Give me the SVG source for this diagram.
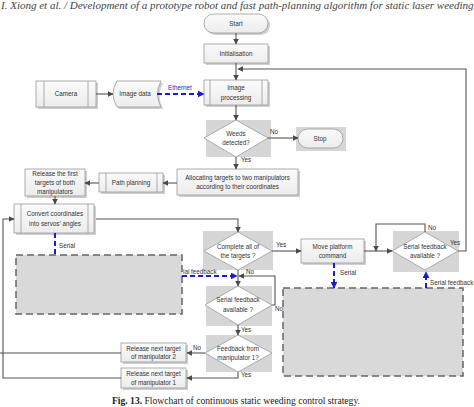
<svg xmlns="http://www.w3.org/2000/svg" width="474" height="407" viewBox="0 0 474 407">
<defs>
<marker id="ah" viewBox="0 0 10 10" refX="9" refY="5" markerWidth="6" markerHeight="6" markerUnits="userSpaceOnUse" orient="auto"><path d="M0 0 L10 5 L0 10 Z" fill="#4a4a4a"/></marker>
<marker id="bh" viewBox="0 0 10 10" refX="9" refY="5" markerWidth="7" markerHeight="7" markerUnits="userSpaceOnUse" orient="auto"><path d="M0 0 L10 5 L0 10 Z" fill="#1b1bd0"/></marker>
<linearGradient id="g" x1="0" y1="0" x2="0" y2="1"><stop offset="0" stop-color="#fbfbfb"/><stop offset="1" stop-color="#ececec"/></linearGradient>
</defs>
<style>
.n{fill:url(#g);stroke:#9a9a9a;stroke-width:0.8}
.sh{fill:#cfcfcf}
.bg{fill:#d6d6d6}
.d{fill:#ffffff;stroke:#9a9a9a;stroke-width:0.8}
.il{stroke:#9a9a9a;stroke-width:0.8}
.t{font-family:"Liberation Sans",Arial,sans-serif;font-size:6.3px;fill:#333;text-anchor:middle}
.lb{font-family:"Liberation Sans",Arial,sans-serif;font-size:6.3px;fill:#333}
.c{fill:none;stroke:#555;stroke-width:1.1}
.b{fill:none;stroke:#1b1bd0;stroke-width:2;stroke-dasharray:5 3}
.db{fill:#d9d9d9;stroke:#666;stroke-width:1.5;stroke-dasharray:7 4}
.hd{font-family:"Liberation Serif","Times New Roman",serif;font-style:italic;font-size:11px;fill:#444}
.cap{font-family:"Liberation Serif","Times New Roman",serif;font-size:9.6px;fill:#222;text-anchor:middle}
</style>
<text class="hd" x="1" y="8.5">I. Xiong et al. / Development of a prototype robot and fast path-planning algorithm for static laser weeding</text>

<g id="start"><rect class="sh" x="206" y="16" width="64" height="19" rx="9.5"/><rect class="n" x="204" y="14" width="64" height="19" rx="9.5"/><text class="t" x="236" y="26">Start</text></g>
<g id="init"><rect class="sh" x="206" y="46" width="64" height="19"/><rect class="n" x="204" y="44" width="64" height="19"/><text class="t" x="236" y="56">Initialisation</text></g>
<g id="camera"><rect class="sh" x="38" y="83" width="60" height="26"/><rect class="n" x="36" y="81" width="60" height="26"/><path class="il" d="M44 81 V107 M88 81 V107"/><text class="t" x="66" y="96">Camera</text></g>
<g id="imagedata"><path class="sh" d="M119 83 H163 Q156 96 163 109 H119 Q111 96 119 83 Z"/><path class="n" d="M117 81 H161 Q154 94 161 107 H117 Q109 94 117 81 Z"/><text class="t" x="135" y="96">Image data</text></g>
<g id="imgproc"><rect class="sh" x="206" y="82" width="64" height="25"/><rect class="n" x="204" y="80" width="64" height="25"/><path class="il" d="M210 80 V105 M262 80 V105"/><text class="t" x="236" y="90">Image</text><text class="t" x="236" y="100">processing</text></g>
<g id="weeds"><rect class="bg" x="206" y="120" width="65" height="37"/><polygon class="d" points="236,120 268,138 236,157 204,138"/><text class="t" x="236" y="136">Weeds</text><text class="t" x="236" y="145">detected?</text></g>
<g id="stop"><rect class="bg" x="296" y="127" width="50" height="24"/><rect class="n" x="298" y="129" width="45" height="19" rx="9.5"/><text class="t" x="320" y="141">Stop</text></g>
<g id="allocating"><rect class="sh" x="179" y="171" width="121" height="26"/><rect class="n" x="177" y="169" width="121" height="26"/><text class="t" x="237.5" y="180">Allocating targets to two manipulators</text><text class="t" x="237.5" y="189">according to their coordinates</text></g>
<g id="pathplanning"><rect class="sh" x="101" y="175" width="64" height="19"/><rect class="n" x="99" y="173" width="64" height="19"/><path class="il" d="M106 173 V192 M157 173 V192"/><text class="t" x="131" y="185">Path planning</text></g>
<g id="releasefirst"><rect class="sh" x="27" y="171" width="60" height="27"/><rect class="n" x="25" y="169" width="60" height="27"/><text class="t" x="55" y="176">Release the first</text><text class="t" x="55" y="185">targets of both</text><text class="t" x="55" y="194">manipulators</text></g>
<g id="convert"><rect class="sh" x="16" y="206" width="80" height="29"/><rect class="n" x="14" y="204" width="80" height="29"/><path class="il" d="M21 204 V233 M88 204 V233"/><text class="t" x="55" y="216">Convert coordinates</text><text class="t" x="55" y="226">into servos’ angles</text></g>
<g id="leftbox"><rect class="db" x="16" y="255" width="166" height="59"/></g>
<g id="complete"><rect class="bg" x="203" y="231" width="70" height="39"/><polygon class="d" points="238,232 272,251 238,270 204,251"/><text class="t" x="238" y="249">Complete all of</text><text class="t" x="238" y="258">the targets ?</text></g>
<g id="sfaleft"><rect class="bg" x="206" y="286" width="66" height="40"/><polygon class="d" points="238,286 272,305 238,325 205,305"/><text class="t" x="238" y="302">Serial feedback</text><text class="t" x="238" y="312">available ?</text></g>
<g id="feedback"><rect class="bg" x="206" y="335" width="66" height="37"/><polygon class="d" points="238,335 272,353 238,372 205,353"/><text class="t" x="238" y="351">Feedback from</text><text class="t" x="238" y="360">manipulator 1?</text></g>
<g id="release2"><rect class="sh" x="123" y="345" width="65" height="19"/><rect class="n" x="121" y="343" width="65" height="19"/><text class="t" x="153.5" y="351">Release next target</text><text class="t" x="153.5" y="359">of manipulator 2</text></g>
<g id="release1"><rect class="sh" x="123" y="370" width="65" height="20"/><rect class="n" x="121" y="368" width="65" height="20"/><text class="t" x="153.5" y="376">Release next target</text><text class="t" x="153.5" y="385">of manipulator 1</text></g>
<g id="move"><rect class="sh" x="303" y="241" width="63" height="24"/><rect class="n" x="301" y="239" width="63" height="24"/><text class="t" x="332.5" y="249">Move platform</text><text class="t" x="332.5" y="258">command</text></g>
<g id="sfaright"><rect class="bg" x="393" y="231" width="66" height="41"/><polygon class="d" points="425,232 458,251 425,270 392,251"/><text class="t" x="425" y="249">Serial feedback</text><text class="t" x="425" y="258">available ?</text></g>
<g id="rightbox"><rect class="db" x="283" y="288" width="180" height="88"/></g>

<g id="connectors">
<path class="c" d="M236 33 V44" marker-end="url(#ah)"/>
<path class="c" d="M236 63 V80" marker-end="url(#ah)"/>
<path class="c" d="M96 94 H113" marker-end="url(#ah)"/>
<path class="b" d="M157 94 H204" marker-end="url(#bh)"/>
<path class="c" d="M236 105 V120" marker-end="url(#ah)"/>
<path class="c" d="M268 138 H298" marker-end="url(#ah)"/>
<path class="c" d="M236 157 V169" marker-end="url(#ah)"/>
<path class="c" d="M177 183 H163" marker-end="url(#ah)"/>
<path class="c" d="M99 183 H85" marker-end="url(#ah)"/>
<path class="c" d="M55 196 V204" marker-end="url(#ah)"/>
<path class="c" d="M96 219 H238 V232" marker-end="url(#ah)"/>
<path class="b" d="M55 233 V255"/>
<path class="b" d="M182 276 H237" marker-end="url(#bh)"/>
<path class="c" d="M238 270 V286" marker-end="url(#ah)"/>
<path class="c" d="M272 305 H275 V276 H239" marker-end="url(#ah)"/>
<path class="c" d="M238 325 V335" marker-end="url(#ah)"/>
<path class="c" d="M205 353 H187" marker-end="url(#ah)"/>
<path class="c" d="M238 372 V378 H187" marker-end="url(#ah)"/>
<path class="c" d="M121 353 H0"/>
<path class="c" d="M121 378 H3 V219 H14" marker-end="url(#ah)"/>
<path class="c" d="M272 251 H301" marker-end="url(#ah)"/>
<path class="c" d="M364 251 H392" marker-end="url(#ah)"/>
<path class="c" d="M425 232 V224 H376 V251" marker-end="url(#ah)"/>
<path class="c" d="M458 251 H466 V69 H238" marker-end="url(#ah)"/>
<path class="b" d="M334 263 V288" marker-end="url(#bh)"/>
<path class="b" d="M426 288 V272" marker-end="url(#bh)"/>
<text class="lb" x="168" y="90" style="fill:#1b1bd0">Ethernet</text>
<text class="lb" x="270" y="134">No</text>
<text class="lb" x="241" y="162">Yes</text>
<text class="lb" x="59" y="248">Serial</text>
<text class="lb" x="183" y="274">ial feedback</text>
<text class="lb" x="276" y="247">Yes</text>
<text class="lb" x="246" y="274">No</text>
<text class="lb" x="275" y="311">No</text>
<text class="lb" x="241" y="332">Yes</text>
<text class="lb" x="193" y="350">No</text>
<text class="lb" x="241" y="377">Yes</text>
<text class="lb" x="428" y="230">No</text>
<text class="lb" x="450" y="245">Yes</text>
<text class="lb" x="340" y="275">Serial</text>
<text class="lb" x="430" y="285">Serial feedback</text>
</g>

<text class="cap" x="236" y="404"><tspan font-weight="bold">Fig. 13.</tspan> Flowchart of continuous static weeding control strategy.</text>
</svg>
